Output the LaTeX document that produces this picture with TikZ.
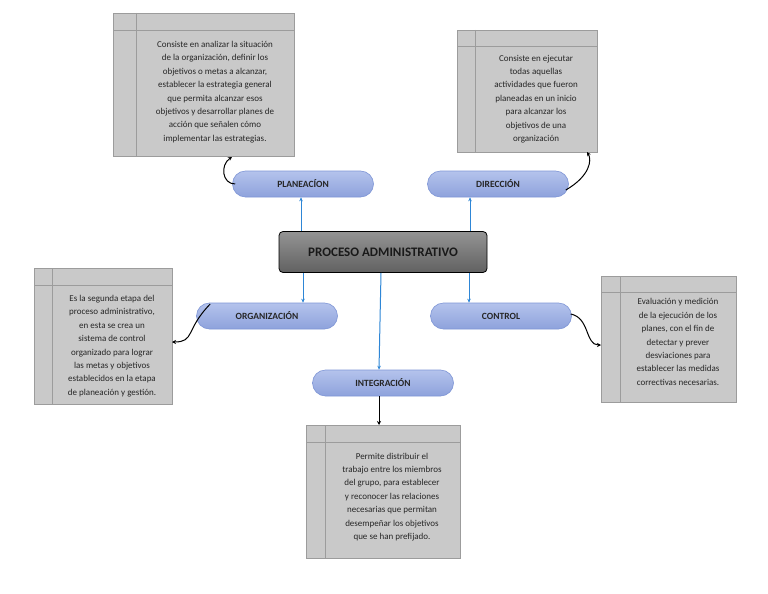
\documentclass[tikz,border=0pt]{standalone}
\usepackage{fontspec}
\setmainfont{Carlito}
\usetikzlibrary{arrows.meta}
\definecolor{boxg}{HTML}{C9C9C9}
\definecolor{boxl}{HTML}{9C9C9C}
\definecolor{ovtop}{HTML}{B4C3EC}
\definecolor{ovbot}{HTML}{8EA2DC}
\definecolor{ovline}{HTML}{7F96D6}
\definecolor{arrb}{HTML}{2E86D6}
\tikzset{
 x=1pt,y=-1pt,
 pill/.style={rounded corners=13pt,top color=ovtop,bottom color=ovbot,draw=ovline,line width=0.6pt,font=\bfseries\fontsize{9.5}{11}\selectfont,text=black!85},
 txt/.style={align=center,font=\fontsize{9}{13.4}\selectfont,text=black!85},
 barr/.style={-{Stealth[length=4pt,width=3.5pt]},draw=arrb,line width=1pt},
 karr/.style={-{Stealth[length=4pt,width=4pt]},black,line width=1pt},
}
\newcommand{\tbox}[6]{% x1 y1 x2 y2 header-bottom leftcol
 \fill[boxg] (#1,#2) rectangle (#3,#4);
 \draw[boxl] (#1,#2) rectangle (#3,#4);
 \draw[boxl] (#1,#5) -- (#3,#5) (#6,#2) -- (#6,#4);
}
\begin{document}
\begin{tikzpicture}
\useasboundingbox (0,0) rectangle (768,594);
\fill[white] (0,0) rectangle (768,594);
% boxes
\tbox{113}{13}{294}{156}{30}{136}
\tbox{457}{30}{597}{152}{46}{475}
\tbox{34}{268}{172}{404}{285}{52}
\tbox{601}{276}{736}{402}{292}{620}
\tbox{306}{425}{460}{558}{442}{325}
\coordinate (b1) at (215,156); \coordinate (b1t) at (232,157);
\node[txt] (t1) at (215,92) {Consiste en analizar la situación\\de la organización, definir los\\objetivos o metas a alcanzar,\\establecer la estrategia general\\que permita alcanzar esos\\objetivos y desarrollar planes de\\acción que señalen cómo\\implementar las estrategias.};
\node[txt] (t2) at (536,99) {Consiste en ejecutar\\todas aquellas\\actividades que fueron\\planeadas en un inicio\\para alcanzar los\\objetivos de una\\organización};
\node[txt] (t3) at (112,346) {Es la segunda etapa del\\proceso administrativo,\\en esta se crea un\\sistema de control\\organizado para lograr\\las metas y objetivos\\establecidos en la etapa\\de planeación y gestión.};
\node[txt] (t4) at (678,342) {Evaluación y medición\\de la ejecución de los\\planes, con el fin de\\detectar y prever\\desviaciones para\\establecer las medidas\\correctivas necesarias.};
\node[txt] (t5) at (392,497) {Permite distribuir el\\trabajo entre los miembros\\del grupo, para establecer\\y reconocer las relaciones\\necesarias que permitan\\desempeñar los objetivos\\que se han prefijado.};
\coordinate (e1) at (232,157);
\coordinate (e2) at (587,152);
\coordinate (e3) at (172,342);
\coordinate (e4) at (601,345);
\coordinate (e5) at (379,425);
% central
\node[draw=black,line width=0.8pt,rounded corners=4pt,top color=black!42,bottom color=black!62,minimum width=208pt,minimum height=41pt,font=\bfseries\fontsize{13}{15}\selectfont,text=black!90] (c) at (383,252) {PROCESO ADMINISTRATIVO};
% pills
\node[pill,minimum width=141pt,minimum height=26pt] (p) at (303,184) {PLANEACÍON};
\node[pill,minimum width=141pt,minimum height=26pt] (d) at (498,184) {DIRECCIÓN};
\node[pill,minimum width=141pt,minimum height=26pt] (o) at (267,316) {ORGANIZACIÓN};
\node[pill,minimum width=141pt,minimum height=26pt] (k) at (501,316) {CONTROL};
\node[pill,minimum width=141pt,minimum height=26pt] (i) at (383,383) {INTEGRACIÓN};
% blue arrows
\draw[barr] (c.north -| p) ++(-2,0) -- ([xshift=-2pt]p.south);
\draw[barr] ([xshift=-28pt]d.south |- c.north) -- ([xshift=-28pt]d.south);
\draw[barr] ([xshift=36pt]o.north |- c.south) -- ([xshift=36pt]o.north);
\draw[barr] ([xshift=-32pt]k.north |- c.south) -- ([xshift=-32pt]k.north);
\draw[barr] ([xshift=-2pt]c.south) -- ([xshift=-4pt]i.north);
% black connectors
\draw[karr] (i.south -| e5) -- (e5);
\draw[karr] ([xshift=3pt]p.west) .. controls (222,184) and (220,165) .. (e1);
\draw[karr] ([xshift=-3pt,yshift=-6pt]d.east) .. controls (590,176) and (592,160) .. (e2);
\draw[karr] ([xshift=14pt,yshift=12pt]o.west) .. controls (185,330) and (195,342) .. (e3);
\draw[karr] ([xshift=-1pt,yshift=2pt]k.east) .. controls (590,318) and (585,345) .. (e4);
\end{tikzpicture}
\end{document}
